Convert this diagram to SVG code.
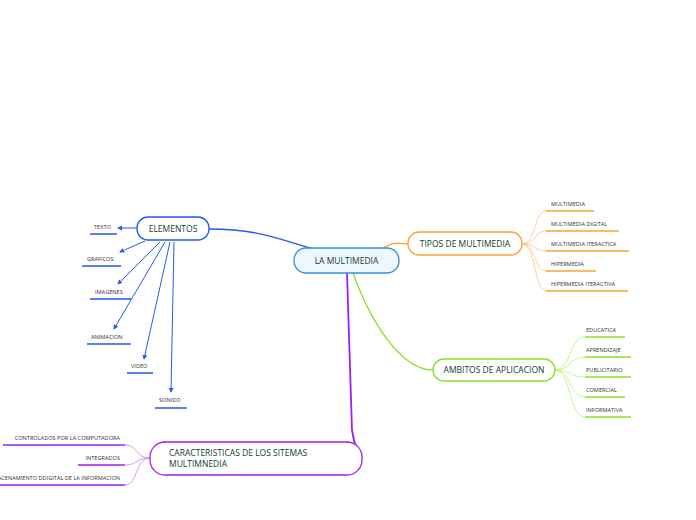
<svg xmlns="http://www.w3.org/2000/svg" width="696" height="520" viewBox="0 0 696 520">
<defs>
<style>
.n{font-family:"Open Sans","Noto Sans",sans-serif;font-size:8.5px;fill:#123a30}
.c{font-family:"Open Sans","Noto Sans",sans-serif;font-size:5.6px;fill:#333}
.u{stroke-width:1.5}
</style>
<marker id="a" viewBox="0 0 6 6" refX="5" refY="3" markerWidth="5" markerHeight="5" orient="auto"><path d="M0,0L6,3L0,6z" fill="#2557f0"/></marker>
</defs>
<rect width="696" height="520" fill="#fff"/>
<g id="connectors" fill="none">
<path d="M209,229 C260,229 280,240 318,250" stroke="#2557f0" stroke-width="1.3"/>
<path d="M380,250 C395,240 400,244 408,244" stroke="#f9a531" stroke-width="1.3"/>
<path d="M353,273 C370,320 400,370 433,370" stroke="#86e22a" stroke-width="1.3"/>
<path d="M347,273 L352,430 Q355,450 362,458" stroke="#a020f0" stroke-width="1.8"/>
<g stroke="#2557f0" stroke-width="1" marker-end="url(#a)">
<path d="M137,228 L118,228"/>
<path d="M145,241 L120,252"/>
<path d="M160,242 L118,284"/>
<path d="M165,242 L114,329"/>
<path d="M170,242 L144,359"/>
<path d="M174,242 L171,392"/>
</g>
<g stroke="#2557f0" class="u">
<path d="M90,234H117M82,266H121M90,299H131M87,344H131M127,373H153M155,408H187"/>
</g>
<g stroke="#fbc07a" stroke-width="0.8">
<path d="M522,244 C536,244 534,211 546,211"/>
<path d="M522,244 C536,244 534,231 546,231"/>
<path d="M522,244 C536,244 534,251 546,251"/>
<path d="M522,244 C536,244 534,271 546,271"/>
<path d="M522,244 C536,244 534,291 546,291"/>
</g>
<g stroke="#f9a531" class="u">
<path d="M546,211H594M546,231H619M546,251H629M546,271H596M546,291H628"/>
</g>
<g stroke="#b5f07a" stroke-width="0.8">
<path d="M555,370 C571,370 569,337 585,337"/>
<path d="M555,370 C571,370 569,357 585,357"/>
<path d="M555,370 C571,370 569,377 585,377"/>
<path d="M555,370 C571,370 569,397 585,397"/>
<path d="M555,370 C571,370 569,417 585,417"/>
</g>
<g stroke="#86e22a" class="u">
<path d="M585,337H625M585,357H631M585,377H631M585,397H625M585,417H631"/>
</g>
<g stroke="#c77ff0" stroke-width="0.8">
<path d="M150,458 C135,458 138,445 125,445"/>
<path d="M150,458 C135,458 138,465 125,465"/>
<path d="M150,458 C135,458 138,485 125,485"/>
</g>
<g stroke="#a020f0" class="u">
<path d="M3,445H125M78,465H125M0,485H125"/>
</g>
</g>
<g id="root"><rect x="294" y="248" width="105" height="25" rx="12" fill="#eef7fd" stroke="#3a8fd6" stroke-width="1.3"/><text class="n" x="346.5" y="264" text-anchor="middle" font-size="9.5" fill="#0f2a4a">LA MULTIMEDIA</text></g>
<g id="elementos"><rect x="137" y="217" width="72" height="23" rx="11" fill="#fff" stroke="#2557f0" stroke-width="1.3"/><text class="n" x="173" y="232" text-anchor="middle">ELEMENTOS</text></g>
<g id="tipos"><rect x="408" y="232" width="114" height="23" rx="11" fill="#fff" stroke="#f9a531" stroke-width="1.3"/><text class="n" x="465" y="247" text-anchor="middle">TIPOS DE MULTIMEDIA</text></g>
<g id="ambitos"><rect x="433" y="359" width="122" height="22" rx="11" fill="#fff" stroke="#86e22a" stroke-width="1.3"/><text class="n" x="494" y="373" text-anchor="middle">AMBITOS DE APLICACION</text></g>
<g id="caracteristicas"><rect x="150" y="442" width="212" height="33" rx="15" fill="#fff" stroke="#a020f0" stroke-width="1.3"/><text class="n" x="169" y="456">CARACTERISTICAS DE LOS SITEMAS</text><text class="n" x="169" y="467">MULTIMNEDIA</text></g>
<g id="el-children">
<text class="c" x="94" y="229">TEXTO</text><text class="c" x="87" y="261">GRAFICOS</text><text class="c" x="95" y="294">IMAGENES</text><text class="c" x="91" y="339">ANIMACION</text><text class="c" x="131" y="368">VIDEO</text><text class="c" x="159" y="402">SONIDO</text>
</g>
<g id="tipos-children">
<text class="c" x="551" y="206">MULTIMEDIA</text><text class="c" x="551" y="226">MULTIMEDIA DIGITAL</text><text class="c" x="551" y="246">MULTIMEDIA ITERACTICA</text><text class="c" x="551" y="266">HIPERMEDIA</text><text class="c" x="551" y="286">HIPERMEDIA ITERACTIVA</text>
</g>
<g id="ambitos-children">
<text class="c" x="586" y="332">EDUCATICA</text><text class="c" x="586" y="352">APRENDIZAJE</text><text class="c" x="586" y="372">PUBLICITARIO</text><text class="c" x="586" y="392">COMERCIAL</text><text class="c" x="586" y="412">INFORMATIVA</text>
</g>
<g id="car-children">
<text class="c" x="120" y="440" text-anchor="end">CONTROLADOS POR LA COMPUTADORA</text><text class="c" x="120" y="460" text-anchor="end">INTEGRADOS</text><text class="c" x="120" y="480" text-anchor="end">ALMACENAMIENTO DDIGITAL DE LA INFORMACION</text>
</g>
</svg>
